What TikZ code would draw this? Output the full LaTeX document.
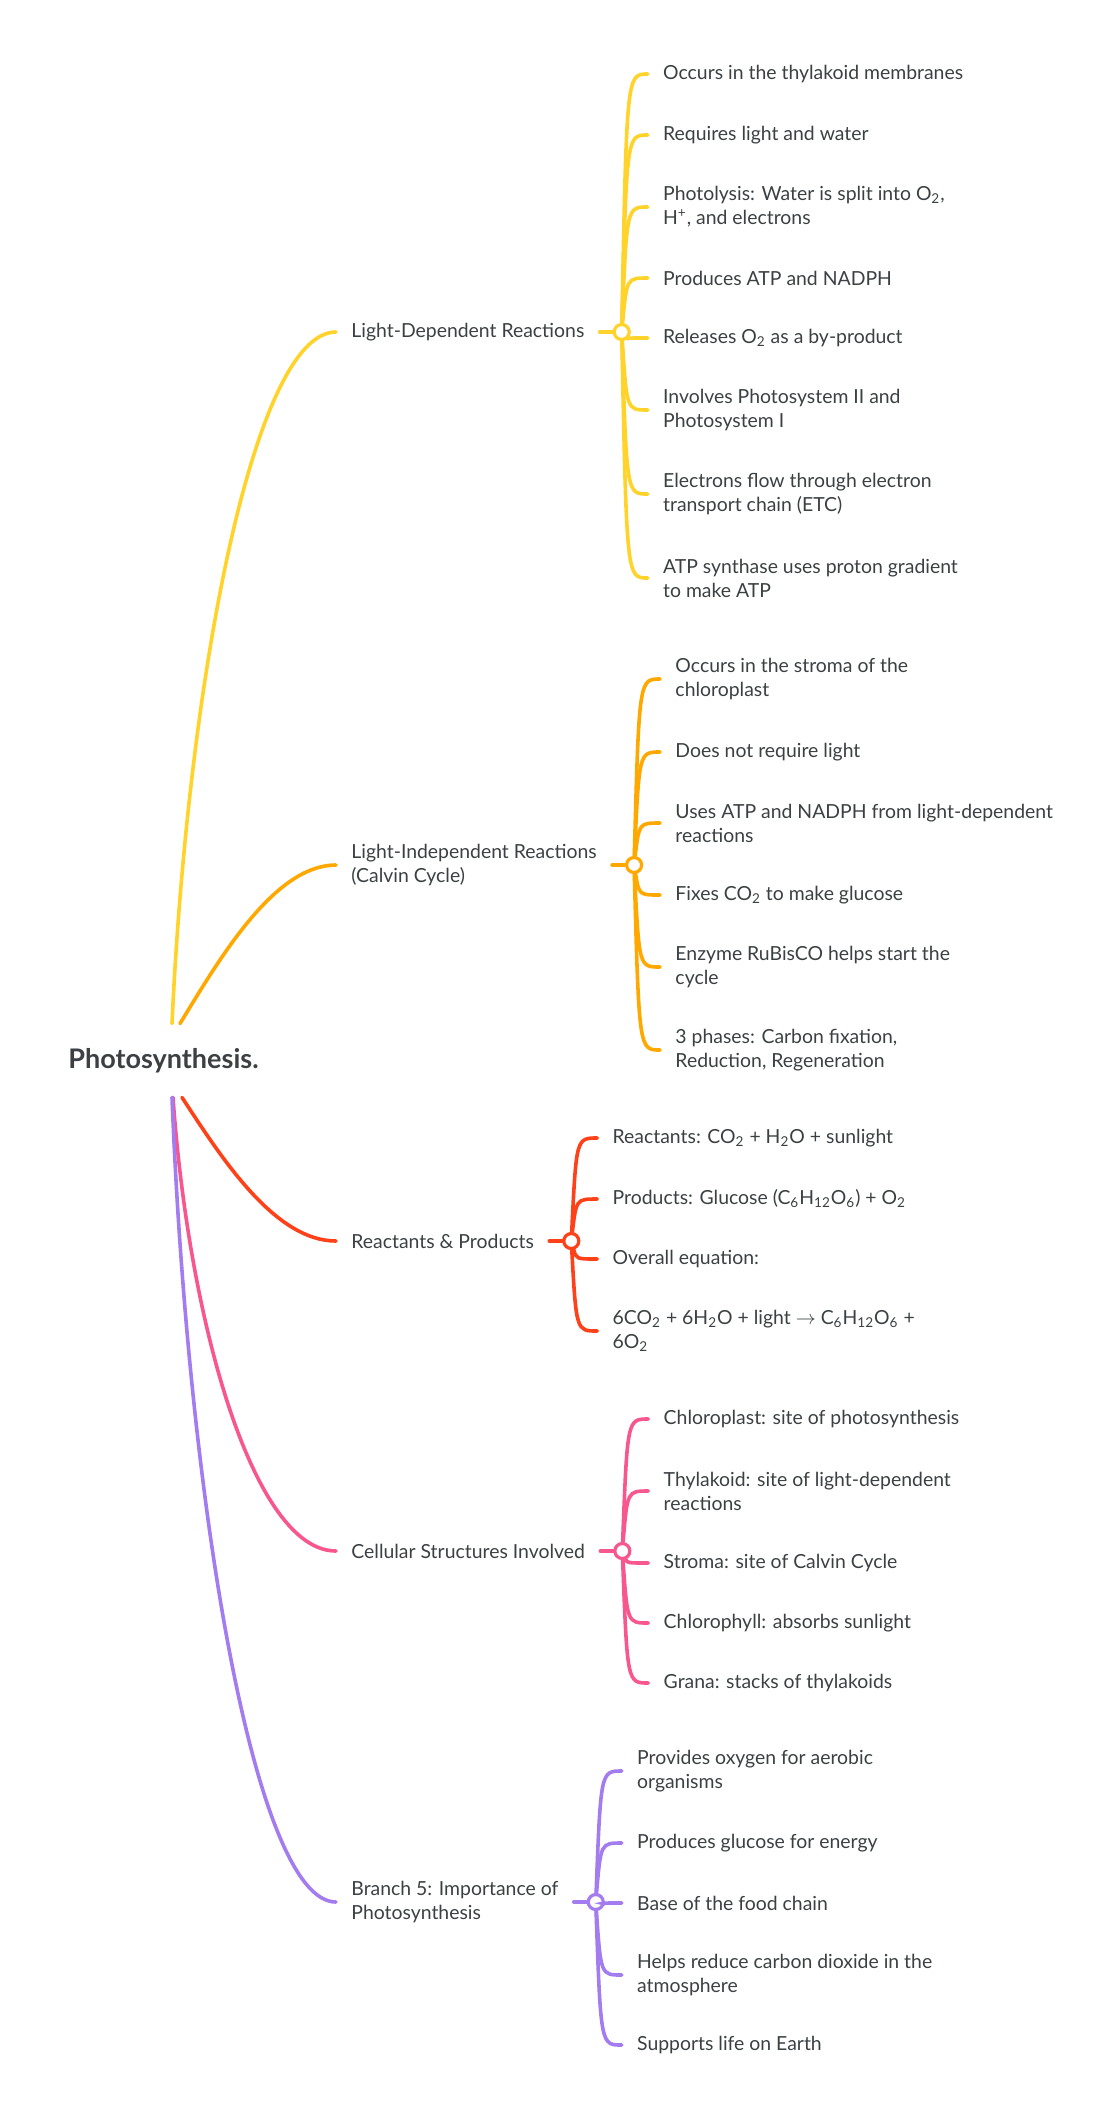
\documentclass[tikz,border=0pt]{standalone}
\usepackage{fontspec}
\setmainfont{Lato}
\usetikzlibrary{positioning, calc}

\definecolor{ink}{HTML}{3C4043}
\definecolor{cYellow}{HTML}{FFD32A}
\definecolor{cOrange}{HTML}{FFA800}
\definecolor{cRed}{HTML}{FF4119}
\definecolor{cPink}{HTML}{F7578C}
\definecolor{cPurple}{HTML}{A37CF0}

\begin{document}
\begin{tikzpicture}[x=0.5pt, y=-0.5pt, line cap=round]
    \tikzstyle{topic} = [font=\fontsize{13.5}{16}\selectfont\bfseries, text=ink, minimum height=36.5pt, inner sep=0pt]
    \tikzstyle{branch} = [font=\fontsize{9.7}{12}\selectfont, text=ink, align=left, inner xsep=7.5pt, inner ysep=1pt, anchor=west]
    \tikzstyle{leaf} = [branch]
    \tikzstyle{hub} = [circle, draw, fill=white, line width=1.6pt, minimum size=7.5pt, inner sep=0pt]
    \tikzstyle{wire} = [line width=1.8pt]

    \useasboundingbox (0,0) rectangle (1115,2122);

    \node[topic] (root) at (163.5,1060.5) {Photosynthesis.};
    \coordinate (sY) at ($(root.north)+(8.5,0)$);
    \coordinate (sO) at ($(root.north)+(16.5,0)$);
    \coordinate (sR) at ($(root.south)+(18.5,0)$);
    \coordinate (sP) at ($(root.south)+(9.5,0)$);
    \coordinate (sV) at ($(root.south)+(8.5,0)$);

    \node[branch] (ld) at (336,332) {Light-Dependent Reactions};
    \node[branch] (li) at (336,865) {Light-Independent Reactions\\(Calvin Cycle)};
    \node[branch] (rp) at (336,1241) {Reactants \& Products};
    \node[branch] (cs) at (336,1551) {Cellular Structures Involved};
    \node[branch] (im) at (336,1902) {Branch 5: Importance of\\Photosynthesis};

    \draw[wire, cYellow] (sY) .. controls +(16,-346) and +(-82,0) .. (ld.west);
    \draw[wire, cOrange] (sO) .. controls +(39,-64) and +(-62,0) .. (li.west);
    \draw[wire, cRed] (sR) .. controls +(38,58) and +(-62,0) .. (rp.west);
    \draw[wire, cPink] (sP) .. controls +(16,227) and +(-82,0) .. (cs.west);
    \draw[wire, cPurple] (sV) .. controls +(16,402) and +(-82,0) .. (im.west);

    \node[hub, draw=cYellow, right=11pt of ld.east, anchor=center] (hY) {};
    \node[hub, draw=cOrange, right=11pt of li.east, anchor=center] (hO) {};
    \node[hub, draw=cRed, right=11pt of rp.east, anchor=center] (hR) {};
    \node[hub, draw=cPink, right=11pt of cs.east, anchor=center] (hP) {};
    \node[hub, draw=cPurple, right=11pt of im.east, anchor=center] (hV) {};

    \draw[wire, cYellow] (ld.east) -- (hY);
    \draw[wire, cOrange] (li.east) -- (hO);
    \draw[wire, cRed] (rp.east) -- (hR);
    \draw[wire, cPink] (cs.east) -- (hP);
    \draw[wire, cPurple] (im.east) -- (hV);

    \foreach \h in {hY, hO, hR, hP, hV} {
        \path (\h.center) ++(26,0) coordinate (x\h) ++(-21,0) coordinate (k\h);
    }

    \foreach \t/\y [count=\i] in {
        {Occurs in the thylakoid membranes}/74,
        {Requires light and water}/135,
        {Photolysis: Water is split into O\textsubscript{2},\\H\textsuperscript{+}, and electrons}/207,
        {Produces ATP and NADPH}/278,
        {Releases O\textsubscript{2} as a by-product}/338,
        {Involves Photosystem II and\\Photosystem I}/410,
        {Electrons flow through electron\\transport chain (ETC)}/494,
        {ATP synthase uses proton gradient\\to make ATP}/578} {
        \node[leaf] (ly\i) at (xhY |- 0,\y) {\t};
        \draw[wire, cYellow] (hY) .. controls (khY |- ly\i.west) and (khY |- ly\i.west) .. (ly\i.west);
    }

    \foreach \t/\y [count=\i] in {
        {Occurs in the stroma of the\\chloroplast}/679,
        {Does not require light}/752,
        {Uses ATP and NADPH from light-dependent\\reactions}/823,
        {Fixes CO\textsubscript{2} to make glucose}/895,
        {Enzyme RuBisCO helps start the\\cycle}/967,
        {3 phases: Carbon fixation,\\Reduction, Regeneration}/1050} {
        \node[leaf] (lo\i) at (xhO |- 0,\y) {\t};
        \draw[wire, cOrange] (hO) .. controls (khO |- lo\i.west) and (khO |- lo\i.west) .. (lo\i.west);
    }

    \foreach \t/\y [count=\i] in {
        {Reactants: CO\textsubscript{2} + H\textsubscript{2}O + sunlight}/1138,
        {Products: Glucose (C\textsubscript{6}H\textsubscript{12}O\textsubscript{6}) + O\textsubscript{2}}/1199,
        {Overall equation:}/1259,
        {6CO\textsubscript{2} + 6H\textsubscript{2}O + light $\rightarrow$ C\textsubscript{6}H\textsubscript{12}O\textsubscript{6} +\\6O\textsubscript{2}}/1331} {
        \node[leaf] (lr\i) at (xhR |- 0,\y) {\t};
        \draw[wire, cRed] (hR) .. controls (khR |- lr\i.west) and (khR |- lr\i.west) .. (lr\i.west);
    }

    \foreach \t/\y [count=\i] in {
        {Chloroplast: site of photosynthesis}/1419,
        {Thylakoid: site of light-dependent\\reactions}/1491,
        {Stroma: site of Calvin Cycle}/1563,
        {Chlorophyll: absorbs sunlight}/1623,
        {Grana: stacks of thylakoids}/1683} {
        \node[leaf] (lp\i) at (xhP |- 0,\y) {\t};
        \draw[wire, cPink] (hP) .. controls (khP |- lp\i.west) and (khP |- lp\i.west) .. (lp\i.west);
    }

    \foreach \t/\y [count=\i] in {
        {Provides oxygen for aerobic\\organisms}/1771,
        {Produces glucose for energy}/1843,
        {Base of the food chain}/1903,
        {Helps reduce carbon dioxide in the\\atmosphere}/1975,
        {Supports life on Earth}/2045} {
        \node[leaf] (lv\i) at (xhV |- 0,\y) {\t};
        \draw[wire, cPurple] (hV) .. controls (khV |- lv\i.west) and (khV |- lv\i.west) .. (lv\i.west);
    }
\end{tikzpicture}
\end{document}
